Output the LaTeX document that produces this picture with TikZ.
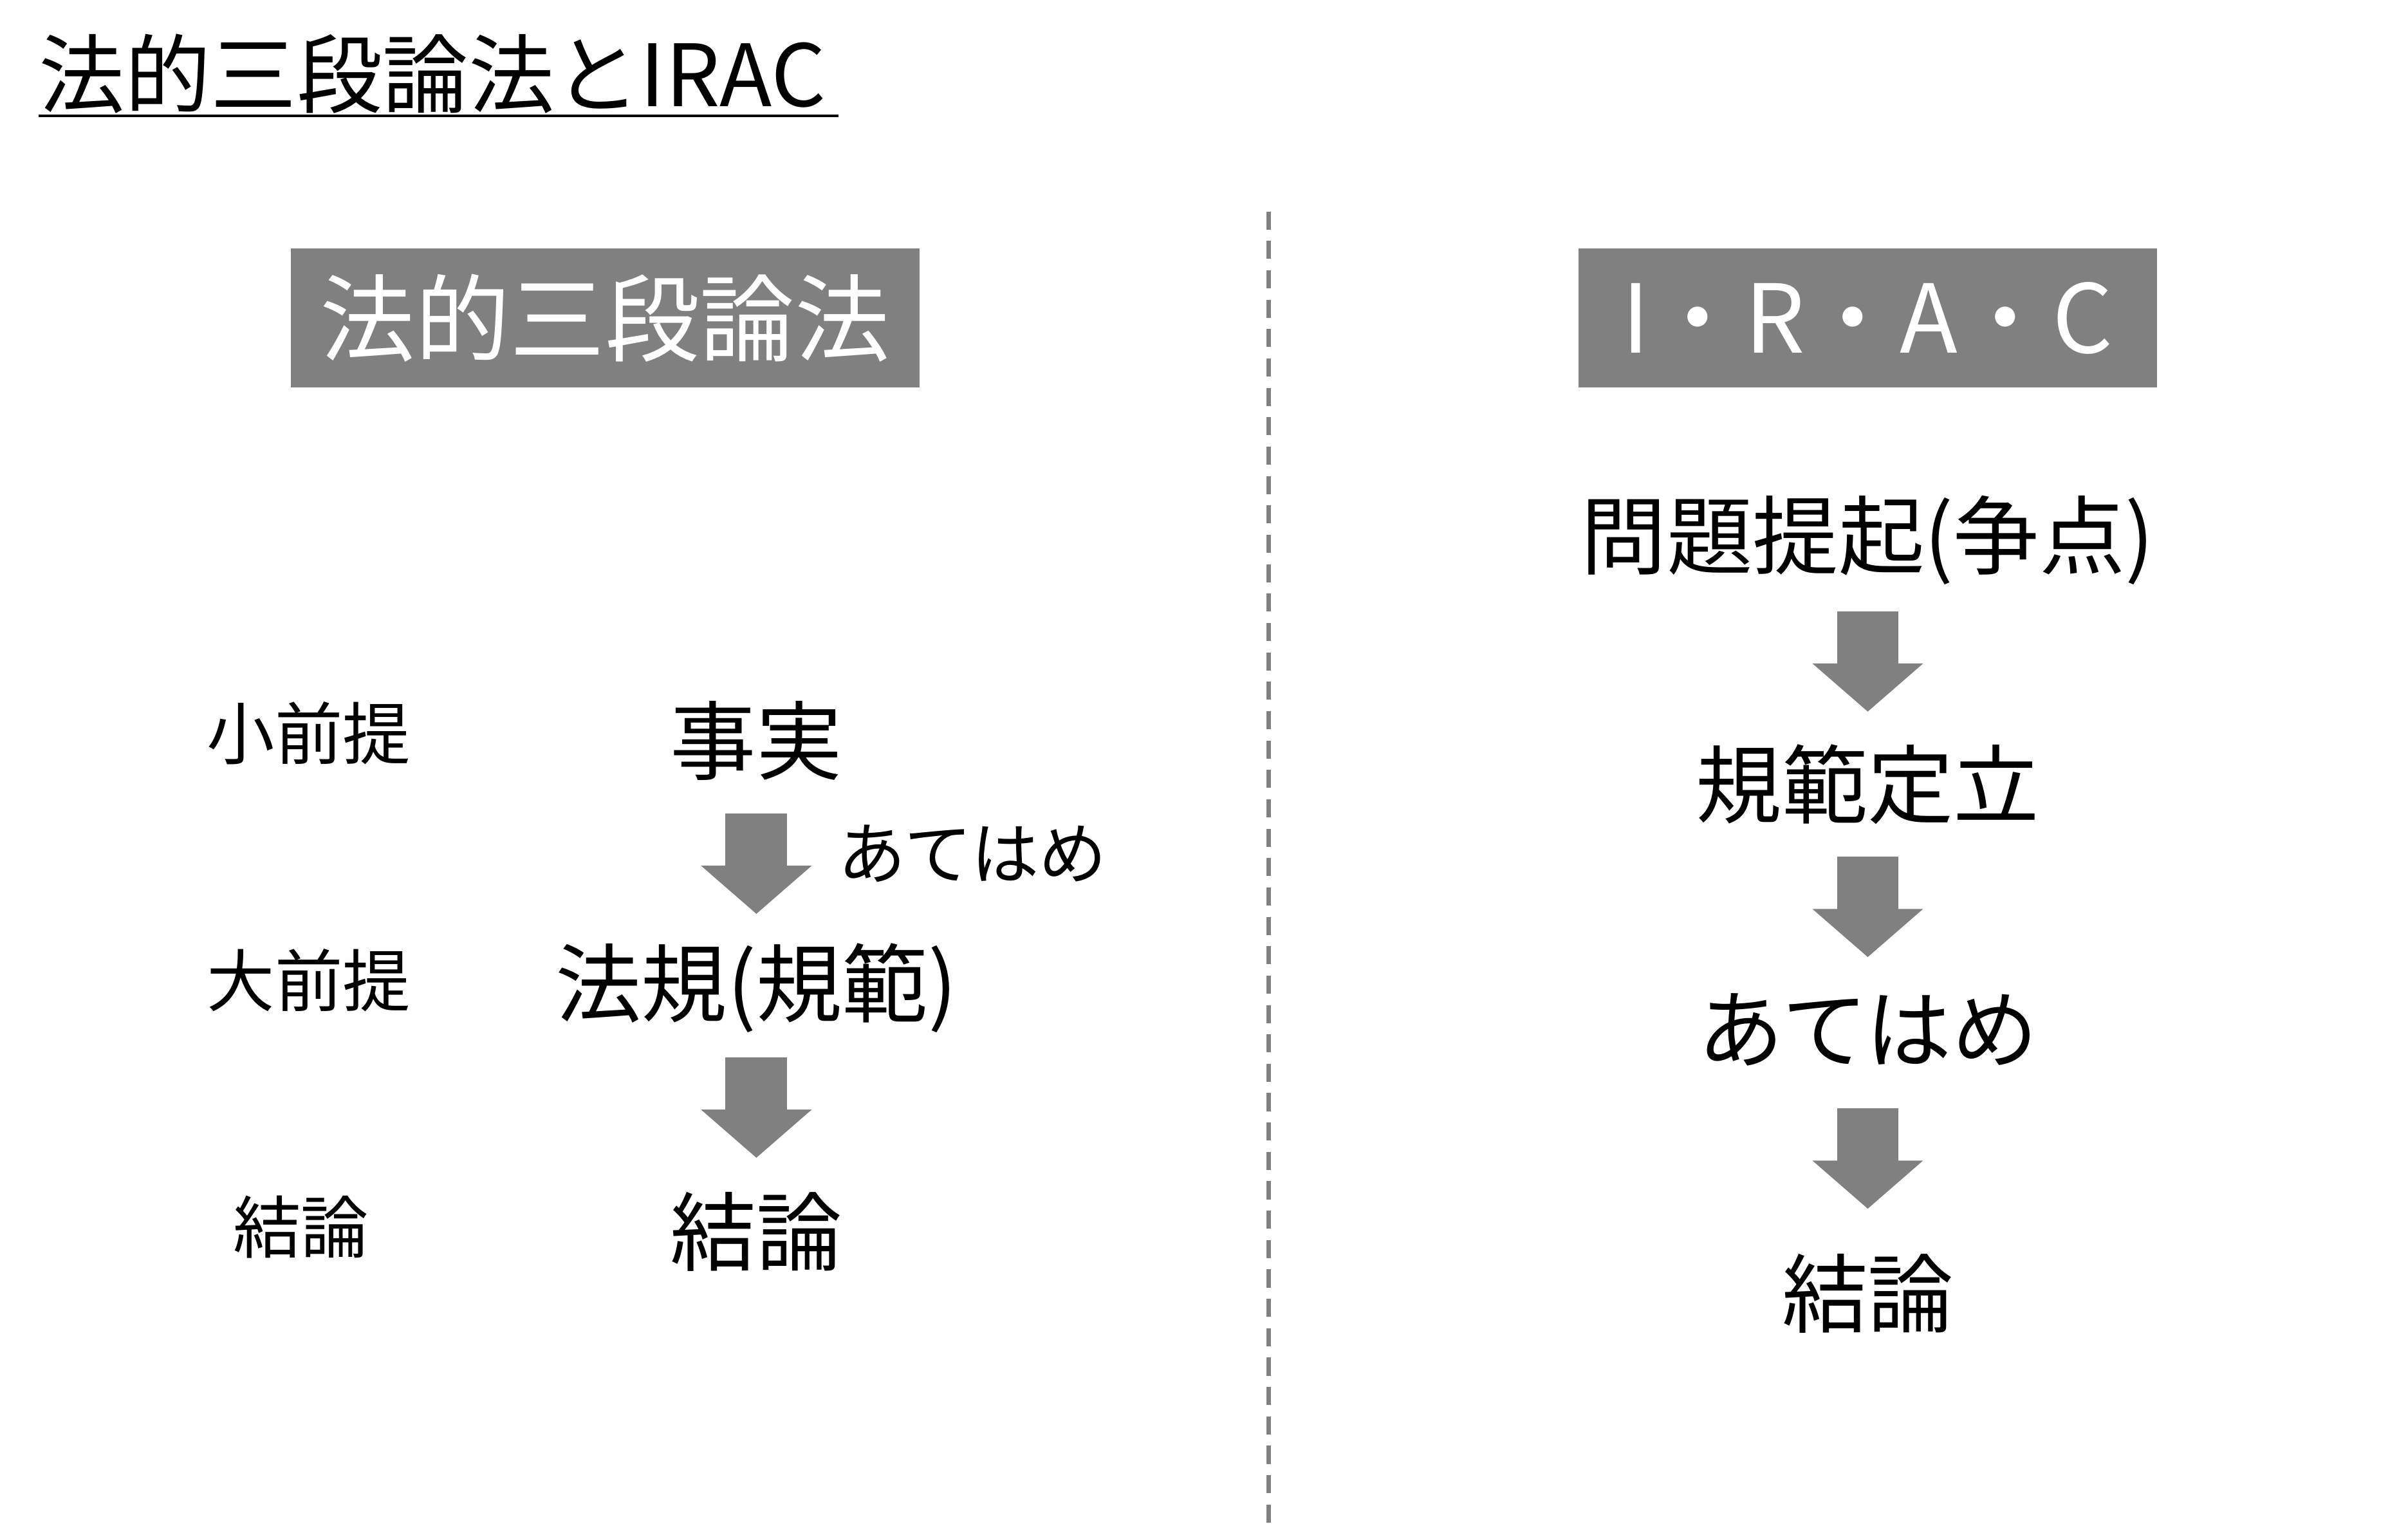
\documentclass[tikz,border=0pt]{standalone}
\usepackage{fontspec}
\setmainfont{Noto Sans CJK JP}
\usetikzlibrary{arrows.meta, positioning}
\definecolor{boxgray}{HTML}{808080}
\tikzset{
  heading/.style={fill=boxgray, text=white, inner sep=0pt, font=\fontsize{42}{48}\selectfont},
  item/.style={font=\fontsize{38}{44}\selectfont, inner sep=0pt},
  side/.style={font=\fontsize{30}{36}\selectfont, inner sep=0pt},
  blockarrow/.style={draw=boxgray, line width=0.96cm, -{Triangle[width=1.68cm, length=0.75cm, fill=boxgray]}}
}
\begin{document}
\begin{tikzpicture}[x=0.024cm, y=-0.024cm]
  \useasboundingbox (0,0) rectangle (1560,993);
  % title
  \node[item, anchor=west] (title) at (25,48) {法的三段論法とIRAC};
  \draw[line width=1.2pt] (25,75) -- (543,75);
  % divider
  \draw[boxgray, line width=2pt, dash pattern=on 8pt off 5pt] (822,137) -- (822,990);
  % headings
  \node[heading, minimum width=9.77cm, minimum height=2.16cm] (syl) at (392,206) {法的三段論法};
  \node[heading, minimum width=9.0cm, minimum height=2.16cm] (irac) at (1210,206) {I・R・A・C};
  % left column
  \node[side] (minor) at (200,475) {小前提};
  \node[side] (major) at (200,635) {大前提};
  \node[side] (concl) at (195,795) {結論};
  \node[item] (fact) at (490,480) {事実};
  \node[item] (rule) at (490,640) {法規(規範)};
  \node[item] (res) at (490,798) {結論};
  \node[side] (apply) at (630,553) {あてはめ};
  \coordinate (l1s) at (490,527); \coordinate (l1e) at (490,592);
  \coordinate (l2s) at (490,685); \coordinate (l2e) at (490,750);
  \draw[blockarrow] (l1s) -- (l1e);
  \draw[blockarrow] (l2s) -- (l2e);
  % right column
  \node[item] (issue) at (1210,350) {問題提起(争点)};
  \node[item] (norm) at (1210,508) {規範定立};
  \node[item] (app) at (1210,667) {あてはめ};
  \node[item] (end) at (1210,838) {結論};
  \coordinate (r1s) at (1210,396); \coordinate (r1e) at (1210,461);
  \coordinate (r2s) at (1210,555); \coordinate (r2e) at (1210,620);
  \coordinate (r3s) at (1210,718); \coordinate (r3e) at (1210,783);
  \foreach \a/\b in {r1s/r1e, r2s/r2e, r3s/r3e}
    {\draw[blockarrow] (\a) -- (\b);}
\end{tikzpicture}
\end{document}
